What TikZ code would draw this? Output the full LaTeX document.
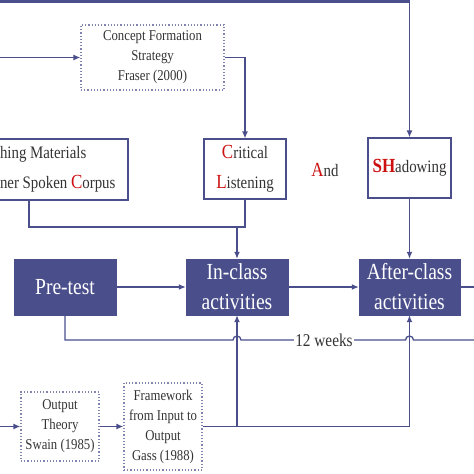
\documentclass[tikz,border=0pt]{standalone}
\usepackage{fontspec}
\setmainfont{Liberation Serif}[FakeStretch=0.85]
\usetikzlibrary{arrows.meta}
\definecolor{slate}{RGB}{74,79,140}
\definecolor{capred}{RGB}{204,16,16}
\newcommand{\redcap}[1]{{\fontsize{20}{20}\selectfont\textcolor{capred}{#1}}}

\begin{document}
\begin{tikzpicture}[x=1pt, y=-1pt,
        link/.style={draw=slate, line width=1.3pt},
        arr/.style={link, -{Latex[length=7pt,width=6pt]}},
        darkbox/.style={fill=slate, draw=slate, text=white, align=center, inner sep=0pt, minimum height=56, font=\fontsize{23}{30}\selectfont},
        framebox/.style={draw=slate, line width=1.2pt, align=center, inner sep=0pt, text=black!80, font=\fontsize{17.5}{30}\selectfont},
        dotbox/.style={draw=slate!70, dotted, line width=1.2pt, align=center, inner sep=0pt, text=black!80, font=\fontsize{15}{20}\selectfont}]
        \useasboundingbox (0,0) rectangle (474,474);
        \clip (0,0) rectangle (474,474);

        \node[dotbox, minimum width=143, minimum height=65] (concept) at (152.5,57.5) {Concept Formation\\Strategy\\Fraser (2000)};

        \node[framebox, minimum width=133, minimum height=61, inner xsep=5pt, text width=123pt, align=flush left] (teach) at (61.5,169.5) {hing Materials\\ner Spoken \redcap{C}orpus};
        \node[framebox, minimum width=82, minimum height=60] (crit) at (245,169) {\redcap{C}ritical\\\redcap{L}istening};
        \node[text=black!80, font=\fontsize{17.5}{20}\selectfont] (and) at (325,170) {\redcap{A}nd};
        \node[framebox, minimum width=83, minimum height=60] (shad) at (409.5,168) {\redcap{\bfseries SH}adowing};

        \node[darkbox, minimum width=102] (pre) at (65,287) {Pre-test};
        \node[darkbox, minimum width=102] (inclass) at (237,287) {In-class\\activities};
        \node[darkbox, minimum width=101] (after) at (409.5,287) {After-class\\activities};

        \node[dotbox, minimum width=78, minimum height=69] (output) at (60,426.5) {Output\\Theory\\Swain (1985)};
        \node[dotbox, minimum width=78, minimum height=87] (frame) at (163,426.5) {Framework\\from Input to\\Output\\Gass (1988)};

        \coordinate (topleft) at (0,1.5);
        \coordinate (topright) at (409.5,1.5);
        \coordinate (cfin) at (0,57.5);
        \coordinate (tx) at (29,0);
        \coordinate (merge) at (245,227);
        \coordinate (rightout) at (474,287);
        \coordinate (weeks) at (0,340);
        \coordinate (botin) at (0,426.5);

        \draw[link, line width=3pt] (topleft) -- (topright);
        \draw[arr] (topright) -- (shad.north);
        \draw[arr] (cfin) -- (concept.west);
        \draw[arr] (concept.east) -| (crit.north);

        \draw[link] (teach.south -| tx) |- (merge) -- (crit.south);
        \draw[arr] (inclass.north |- merge) -- (inclass.north);
        \draw[arr] (shad.south) -- (after.north);

        \draw[arr] (pre) -- (inclass);
        \draw[arr] (inclass) -- (after);
        \draw[link] (after) -- (rightout);

        \draw[link] (pre.south) |- ([xshift=-4pt]inclass.south |- weeks) arc[start angle=180, end angle=0, radius=4pt] -- ([xshift=-4pt]after.south |- weeks) arc[start angle=180, end angle=0, radius=4pt] -- (weeks -| rightout);
        \node[fill=white, inner xsep=1pt, inner ysep=0pt, text=black!80, font=\fontsize{18}{18}\selectfont] (weekslabel) at (324,340) {12 weeks};

        \draw[arr] (botin) -- (output);
        \draw[arr] (output) -- (frame);
        \draw[link] (frame.east) -- (frame.east -| after.south);
        \draw[arr] (inclass.south |- frame.east) -- (inclass.south);
        \draw[arr] (after.south |- frame.east) -- (after.south);
    \end{tikzpicture}
\end{document}
